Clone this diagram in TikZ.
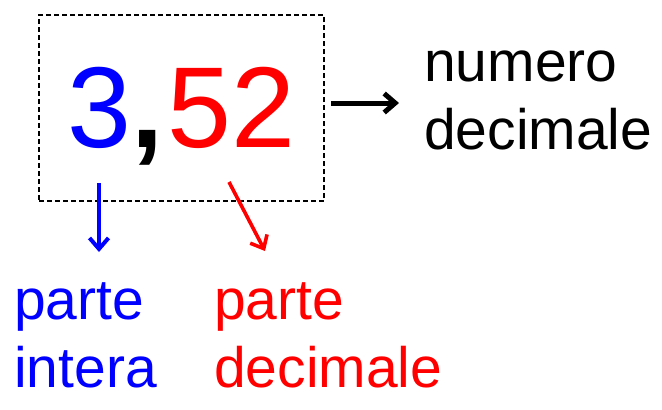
\documentclass[tikz,border=0pt]{standalone}
\usepackage{fontspec}
\setmainfont{Liberation Sans}
\usetikzlibrary{arrows.meta}
\definecolor{pblue}{RGB}{0,0,255}
\definecolor{pred}{RGB}{255,0,0}
\begin{document}
\begin{tikzpicture}[x=1pt,y=-1pt,
  lbl/.style={anchor=base west,inner sep=0pt,align=left,font=\fontsize{57}{68}\selectfont},
  arr/.style={line width=#1,-{Straight Barb[length=11pt,width=19pt,line width=#1]}},
  dbox/.style={draw,dash pattern=on 5pt off 3pt,line width=1.3pt,minimum width=285pt,minimum height=186pt,inner sep=0pt}]
\useasboundingbox (0,0) rectangle (662,410);
\node[dbox] (box) at (181.5,108) {};
\node[anchor=base west,inner sep=0pt,font=\fontsize{115}{120}\selectfont] (num) at (67,147)
  {\textcolor{pblue}{3}{\bfseries,}\kern4pt\textcolor{pred}{52}};
\node[lbl] (dec) at (424,149) {numero\\decimale};
\node[lbl,text=pblue] (int) at (14,387) {parte\\intera};
\node[lbl,text=pred] (frac) at (214,387) {parte\\decimale};
\coordinate (a1) at (331,103);
\coordinate (a2) at (399,103);
\coordinate (b1) at (99,183);
\coordinate (b2) at (99,252);
\coordinate (c1) at (229,182);
\coordinate (c2) at (265,251);
\draw[arr=5pt] (a1) -- (a2);
\draw[arr=4pt,pblue] (b1) -- (b2);
\draw[arr=3.6pt,pred] (c1) -- (c2);
\end{tikzpicture}
\end{document}
